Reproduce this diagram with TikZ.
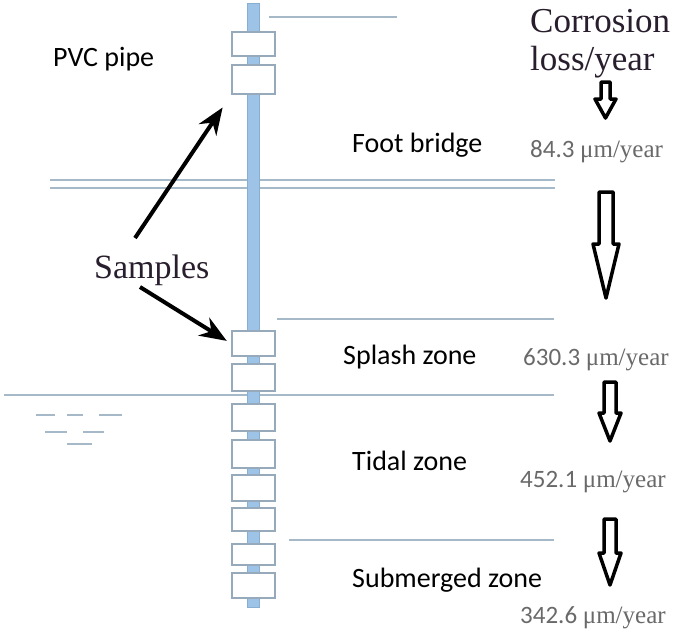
\documentclass[tikz,border=0pt]{standalone}
\usepackage{fontspec}
\setmainfont{Liberation Serif}
\newfontfamily\calib{Carlito}
\usepackage{xcolor}
\usetikzlibrary{arrows.meta,positioning}
\definecolor{pipeblue}{RGB}{157,195,230}
\definecolor{pipeedge}{RGB}{135,175,210}
\definecolor{boxedge}{RGB}{150,170,188}
\definecolor{levelline}{RGB}{165,185,200}
\definecolor{valgrey}{RGB}{105,105,105}
\definecolor{headtext}{RGB}{40,30,45}

\begin{document}
\begin{tikzpicture}[
  x=1pt, y=-1pt,
  sample/.style={rectangle,draw=boxedge,fill=white,line width=2pt,minimum width=43pt,inner sep=0pt},
  level/.style={draw=levelline,line width=1.2pt},
  zone/.style={anchor=base west,inner sep=0pt,font=\calib\fontsize{28}{30}\selectfont},
  rate/.style={anchor=base west,inner sep=0pt,text=valgrey,font=\fontsize{25}{28}\selectfont},
  title/.style={anchor=base west,inner sep=0pt,text=headtext,font=\fontsize{35}{40}\selectfont},
  hollow/.style={draw=black,fill=white,line width=3.5pt,line join=round},
  sarr/.style={-{Stealth[length=27pt,width=21pt]},line width=4pt}
]
\useasboundingbox (0,0) rectangle (685,630);

\draw[level] (269,17) -- (397,17);
\draw[level] (50,180) -- (555,180);
\draw[level] (50,188) -- (555,188);
\draw[level] (277,319) -- (554,319);
\draw[level] (4,395) -- (554,395);
\draw[level] (289,540) -- (554,540);
\foreach \xa/\xb/\y in {36/55/415,67/83/415,99/122/415,45/67/432,83/104/432,67/92/444}
  \draw[level] (\xa,\y) -- (\xb,\y);

\fill[pipeblue,draw=pipeedge,line width=0.6pt] (247,3) rectangle (259,607);
\foreach \i/\t/\b in {1/31/57,2/64/95,3/330/357,4/363/392,5/403/432,6/439/469,7/474/502,8/507/532,9/543/566,10/572/599}
  \node[sample,minimum height=\b-\t-2] (s\i) at (253.5,{(\t+\b)/2}) {};

\node[zone] (pvc) at (53,66) {PVC pipe};
\node[zone] (foot) at (352,152) {Foot bridge};
\node[zone] (splash) at (343,364) {Splash zone};
\node[zone] (tidal) at (352,470) {Tidal zone};
\node[zone] (subm) at (352,587) {Submerged zone};

\node[title] (corr) at (530,32) {Corrosion};
\node[title] (loss) at (530,70) {loss/year};
\node[title,font=\fontsize{34}{40}\selectfont] (samples) at (94,278) {Samples};

\node[rate] (r1) at (530,157) {{\calib 84.3 }μm/year};
\node[rate] (r2) at (523,365) {{\calib 630.3 }μm/year};
\node[rate] (r3) at (520,487) {{\calib 452.1 }μm/year};
\node[rate] (r4) at (520,623) {{\calib 342.6 }μm/year};

\foreach \cx/\yt/\yn/\yp/\sw/\hw in {605.5/82/99/118/4.5/10.5,606/192/244/298/7/13,610/382/413/441/6/11,610/519/553/585/6/11}
  \draw[hollow] ({\cx-\sw},\yt) -- ({\cx+\sw},\yt) -- ({\cx+\sw},\yn) -- ({\cx+\hw},\yn)
    -- (\cx,\yp) -- ({\cx-\hw},\yn) -- ({\cx-\sw},\yn) -- cycle;

\coordinate (ta) at (135,238);
\coordinate (tb) at (140,287);
\draw[sarr,shorten >=15pt] (ta) -- (s2.south west);
\draw[sarr,shorten >=5pt] (tb) -- (s3.west);
\end{tikzpicture}
\end{document}
